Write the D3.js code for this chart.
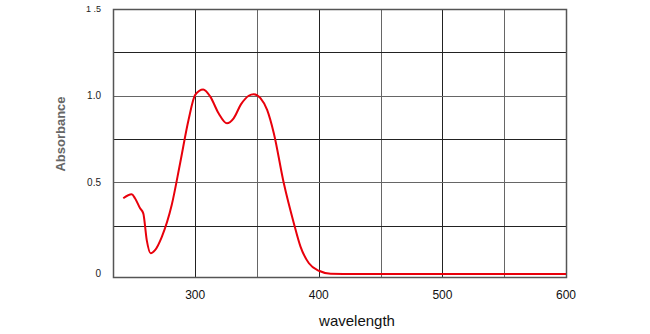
<!DOCTYPE html>
<html>
<head>
<meta charset="utf-8">
<script src="https://cdn.jsdelivr.net/npm/d3@7"></script>
<style>
  body { margin: 0; background: #fff; }
  svg { font-family: "Liberation Sans", Arial, sans-serif; }
</style>
</head>
<body>
<svg width="650" height="334"></svg>
<script>
// data
const wavelength = [241.8, 248.6, 251.3, 255.4, 258, 260.8, 264, 267.5, 273, 281, 287.8, 294.6, 300, 306.5, 312.2, 318.9, 325.7, 331.1, 337, 343.3, 347.3, 352.8, 358.2, 363.6, 371.7, 379.8, 385.2, 392, 400.1, 409.6, 430, 500, 600];
const absorbance = [0.409, 0.432, 0.409, 0.351, 0.322, 0.168, 0.092, 0.11, 0.187, 0.37, 0.611, 0.86, 1.005, 1.036, 0.995, 0.899, 0.841, 0.87, 0.95, 1.0, 1.009, 0.986, 0.918, 0.784, 0.495, 0.265, 0.13, 0.034, -0.009, -0.026, -0.028, -0.028, -0.028];

const xGrid = [300, 350, 400, 450, 500, 550];
const xLabels = [300, 400, 500, 600];
const yGrid = [0.25, 0.5, 0.75, 1.0, 1.25];
const yLabels = [
  { v: 0, t: "0" },
  { v: 0.5, t: "0.5" },
  { v: 1.0, t: "1.0" },
  { v: 1.5, t: "1 .5" }
];

const plotLeft = 113, plotRight = 566, plotTop = 9, plotBottom = 277;

const svg = d3.select("svg");
const x = d3.scaleLinear().domain([233.5, 600]).range([plotLeft, plotRight]);
const y = d3.scaleLinear().domain([-0.045, 1.5]).range([plotBottom, plotTop]);

// grid
svg.selectAll(".vg")
  .data(xGrid)
  .enter()
  .append("line")
  .attr("x1", d => Math.round(x(d)) + 0.5).attr("x2", d => Math.round(x(d)) + 0.5)
  .attr("y1", plotTop).attr("y2", plotBottom)
  .attr("stroke", (d, i) => i % 2 ? "#666" : "#222")
  .attr("stroke-width", 1);

svg.selectAll(".hg")
  .data(yGrid)
  .enter()
  .append("line")
  .attr("x1", plotLeft).attr("x2", plotRight)
  .attr("y1", d => Math.round(y(d)) + 0.5).attr("y2", d => Math.round(y(d)) + 0.5)
  .attr("stroke", (d, i) => i % 2 ? "#666" : "#222")
  .attr("stroke-width", 1);

// border
svg.append("rect")
  .attr("x", plotLeft + 0.5).attr("y", plotTop + 0.5)
  .attr("width", plotRight - plotLeft).attr("height", plotBottom - plotTop)
  .attr("fill", "none")
  .attr("stroke", "#555")
  .attr("stroke-width", 1.5);

// curve
const line = d3.line()
  .x((d, i) => x(wavelength[i]))
  .y(d => y(d))
  .curve(d3.curveMonotoneX);

svg.append("path")
  .datum(absorbance)
  .attr("d", line)
  .attr("fill", "none")
  .attr("stroke", "#e8000b")
  .attr("stroke-width", 2);

// tick labels
svg.selectAll(".xl")
  .data(xLabels)
  .enter()
  .append("text")
  .attr("x", d => x(d))
  .attr("y", 299)
  .attr("text-anchor", "middle")
  .attr("font-size", "12px")
  .attr("fill", "#111")
  .text(d => d);

svg.selectAll(".yl")
  .data(yLabels)
  .enter()
  .append("text")
  .attr("x", 101)
  .attr("y", d => d.v === 0 ? 273 : y(d.v))
  .attr("dy", "0.35em")
  .attr("text-anchor", "end")
  .attr("font-size", d => d.v === 1.5 ? "9px" : "10px")
  .attr("fill", "#222")
  .text(d => d.t);

// axis titles
svg.append("text")
  .attr("x", 357)
  .attr("y", 326)
  .attr("text-anchor", "middle")
  .attr("font-size", "15px")
  .attr("fill", "#111")
  .text("wavelength");

svg.append("text")
  .attr("transform", "translate(65,134) rotate(-90)")
  .attr("text-anchor", "middle")
  .attr("font-size", "13px")
  .attr("font-weight", "bold")
  .attr("fill", "#666")
  .text("Absorbance");
</script>
</body>
</html>
